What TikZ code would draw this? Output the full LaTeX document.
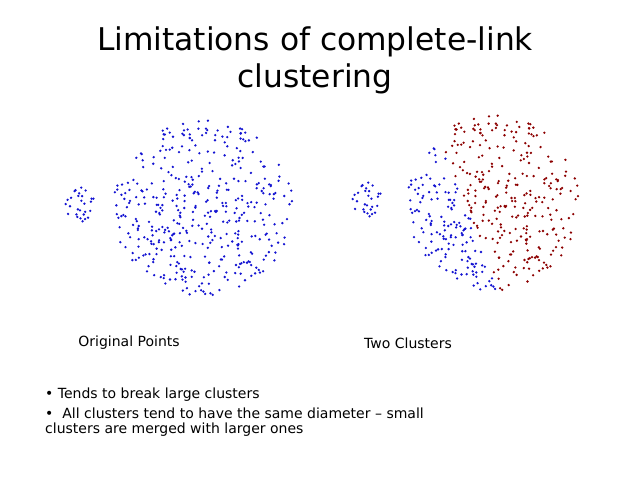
\documentclass[tikz,border=0pt]{standalone}
\usepackage{fontspec}
\setmainfont{DejaVu Sans}
\definecolor{ptblue}{RGB}{20,20,210}
\definecolor{ptred}{RGB}{140,0,0}
\begin{document}
\begin{tikzpicture}[x=1pt,y=-1pt,
  lbl/.style={font=\fontsize{14}{17}\selectfont,inner sep=0pt},
  title/.style={font=\fontsize{31.3}{37}\selectfont,align=center,inner sep=0pt}]
\useasboundingbox (0,0) rectangle (638,478);
\node[title] (t) at (315,60) {Limitations of complete-link\\clustering};
% left: original points
\pgfmathsetseed{42}
\foreach \i in {1,...,420}{
  \pgfmathsetmacro{\r}{sqrt(rnd)}
  \pgfmathsetmacro{\a}{360*rnd}
  \fill[ptblue] ({203+90*\r*cos(\a)},{208+88*\r*sin(\a)}) circle (1.3);
}
\pgfmathsetseed{7}
\foreach \i in {1,...,28}{
  \pgfmathsetmacro{\r}{sqrt(rnd)}
  \pgfmathsetmacro{\a}{360*rnd}
  \fill[ptblue] ({77+18*\r*cos(\a)},{205+18*\r*sin(\a)}) circle (1.3);
}
% right: two clusters
\pgfmathsetseed{42}
\foreach \i in {1,...,420}{
  \pgfmathsetmacro{\r}{sqrt(rnd)}
  \pgfmathsetmacro{\a}{360*rnd}
  \pgfmathsetmacro{\px}{493+86*\r*cos(\a)}
  \pgfmathsetmacro{\py}{203+88*\r*sin(\a)}
  \pgfmathsetmacro{\side}{\px-(465+0.4*(\py-205))}
  \ifdim \side pt>0pt
    \fill[ptred] (\px,\py) circle (1.3);
  \else
    \fill[ptblue] (\px,\py) circle (1.3);
  \fi
}
\pgfmathsetseed{7}
\foreach \i in {1,...,28}{
  \pgfmathsetmacro{\r}{sqrt(rnd)}
  \pgfmathsetmacro{\a}{360*rnd}
  \fill[ptblue] ({364+18*\r*cos(\a)},{200+18*\r*sin(\a)}) circle (1.3);
}
\node[lbl] (l1) at (129,343) {Original Points};
\node[lbl] (l2) at (408,343) {Two Clusters};
\node[lbl,anchor=west] (b1) at (45,395) {\textbullet\ Tends to break large clusters};
\node[lbl,anchor=west] (b2) at (45,413) {\textbullet\ \ All clusters tend to have the same diameter – small};
\node[lbl,anchor=west] (b3) at (45,430) {clusters are merged with larger ones};
\end{tikzpicture}
\end{document}
